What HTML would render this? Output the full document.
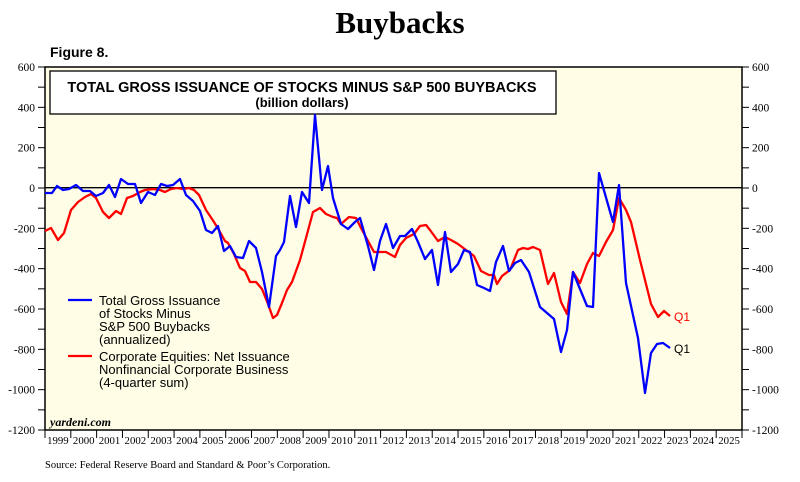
<!DOCTYPE html>
<html><head><meta charset="utf-8"><style>
html,body{margin:0;padding:0;background:#fff;width:800px;height:482px;overflow:hidden}
svg{display:block}
.s{font-family:"Liberation Serif",serif}
.a{font-family:"Liberation Sans",sans-serif}
</style></head><body>
<svg width="800" height="482" viewBox="0 0 800 482" xmlns="http://www.w3.org/2000/svg">
<text x="400" y="33" text-anchor="middle" class="s" font-size="31" font-weight="bold">Buybacks</text>
<text x="50" y="57" class="a" font-size="14" font-weight="bold">Figure 8.</text>
<rect x="45" y="67" width="697" height="363" fill="#fffde6" stroke="#000" stroke-width="1.5"/>
<line x1="45" y1="187.7" x2="742" y2="187.7" stroke="#000" stroke-width="1.3"/>
<rect x="50" y="71" width="506" height="43" fill="#fff" stroke="#000" stroke-width="1.3"/>
<text x="302" y="92" text-anchor="middle" class="a" font-size="14.5" font-weight="bold">TOTAL GROSS ISSUANCE OF STOCKS MINUS S&amp;P 500 BUYBACKS</text>
<text x="302" y="107" text-anchor="middle" class="a" font-size="13" font-weight="bold">(billion dollars)</text>
<g id="yl" class="s" font-size="11.5"></g>
<g stroke="#000" stroke-width="1" id="ticks"></g>
<polyline fill="none" stroke="#f00" stroke-width="2.3" stroke-linejoin="round" points="45,231 51,228 58,240 64,233 71,210 78,202 85,197 91,194 96,198 103,212 109,218 116,211 121,214 127,198 133,196 140,192 145,190 153,189 160,190 165,192 171,189 177,188 183,189 189,188 194,190 199,195 206,210 214,222 220,232 225,241 228,243 234,254 240,268 245,271 250,282 256,282 262,289 268,304 273,318 277,315 282,303 287,290 292,282 300,260 306,238 313,212 320,208 326,214 333,217 337,218 341,224 349,217 356,218 361,228 374,252 386,252 395,257 400,245 406,238 414,234 420,226 426,225 430,230 438,241 445,237 451,240 458,244 466,250 474,256 481,271 489,275 494,275 497,284 502,276 510,270 518,250 523,248 528,249 533,247 540,250 548,284 554,273 561,302 567,314 573,272 580,283 587,264 593,253 599,256 606,242 613,230 619,198 626,210 631,222 640,260 651,304 658,317 664,311 670,316"/>
<polyline fill="none" stroke="#00f" stroke-width="2.3" stroke-linejoin="round" points="45,193 52,193 57,186 63,190 69,189 76,185 83,191 90,191 96,196 103,193 109,185 115,197 121,179 128,184 135,184 141,203 148,192 155,195 161,184 167,186 173,185 180,179 186,195 193,201 200,211 206,230 212,233 218,226 224,251 230,246 236,257 243,258 249,241 256,248 262,272 269,307 276,256 280,250 284,242 290,196 296,227 302,192 309,203 315,115 322,190 328,166 333,198 341,224 348,229 355,222 360,218 368,246 374,270 380,241 386,224 393,248 400,236 405,236 412,229 418,242 425,259 432,250 438,285 445,232 451,272 458,264 464,250 470,252 477,285 484,288 490,291 496,262 503,246 509,271 515,263 521,260 529,272 540,307 554,319 561,352 567,330 573,272 587,306 593,307 599,173 613,222 619,185 626,283 638,338 645,393 651,353 657,344 663,343 670,348"/>
<text x="674" y="321" class="a" font-size="12" fill="#f00">Q1</text>
<text x="674" y="353" class="a" font-size="12">Q1</text>
<line x1="68" y1="300" x2="92" y2="300" stroke="#00f" stroke-width="2.3"/>
<line x1="68" y1="356" x2="92" y2="356" stroke="#f00" stroke-width="2.3"/>
<g class="a" font-size="13">
<text x="99" y="305">Total Gross Issuance</text><text x="99" y="318">of Stocks Minus</text><text x="99" y="331">S&amp;P 500 Buybacks</text><text x="99" y="344">(annualized)</text>
<text x="99" y="361">Corporate Equities: Net Issuance</text><text x="99" y="374">Nonfinancial Corporate Business</text><text x="99" y="387">(4-quarter sum)</text>
</g>
<text x="50" y="426" class="s" font-size="12" font-style="italic" font-weight="bold">yardeni.com</text>
<text x="45" y="468" class="s" font-size="10.5">Source: Federal Reserve Board and Standard &amp; Poor’s Corporation.</text>
<g id="xl" class="s" font-size="10.8"></g>
</svg>
<script>
var ns="http://www.w3.org/2000/svg";
function el(t,a,p,txt){var e=document.createElementNS(ns,t);for(var k in a)e.setAttribute(k,a[k]);if(txt!==undefined)e.textContent=txt;document.getElementById(p).appendChild(e);}
for(var v=600;v>=-1200;v-=100){var y=67+(600-v)*363/1800;
 el('line',{x1:38,y1:y,x2:45,y2:y},'ticks');el('line',{x1:742,y1:y,x2:749,y2:y},'ticks');
 if(v%200==0){el('text',{x:35,y:y+4,'text-anchor':'end'},'yl',v<0?'-'+(-v):''+v);el('text',{x:752,y:y+4},'yl',v<0?'-'+(-v):''+v);}}
var w=697/27;
for(var i=0;i<=27;i++){var x=45+i*w;el('line',{x1:x,y1:430,x2:x,y2:438},'ticks');
 if(i<27)el('text',{x:x+w/2,y:444,'text-anchor':'middle'},'xl',''+(1999+i));}
</script>
</body></html>
